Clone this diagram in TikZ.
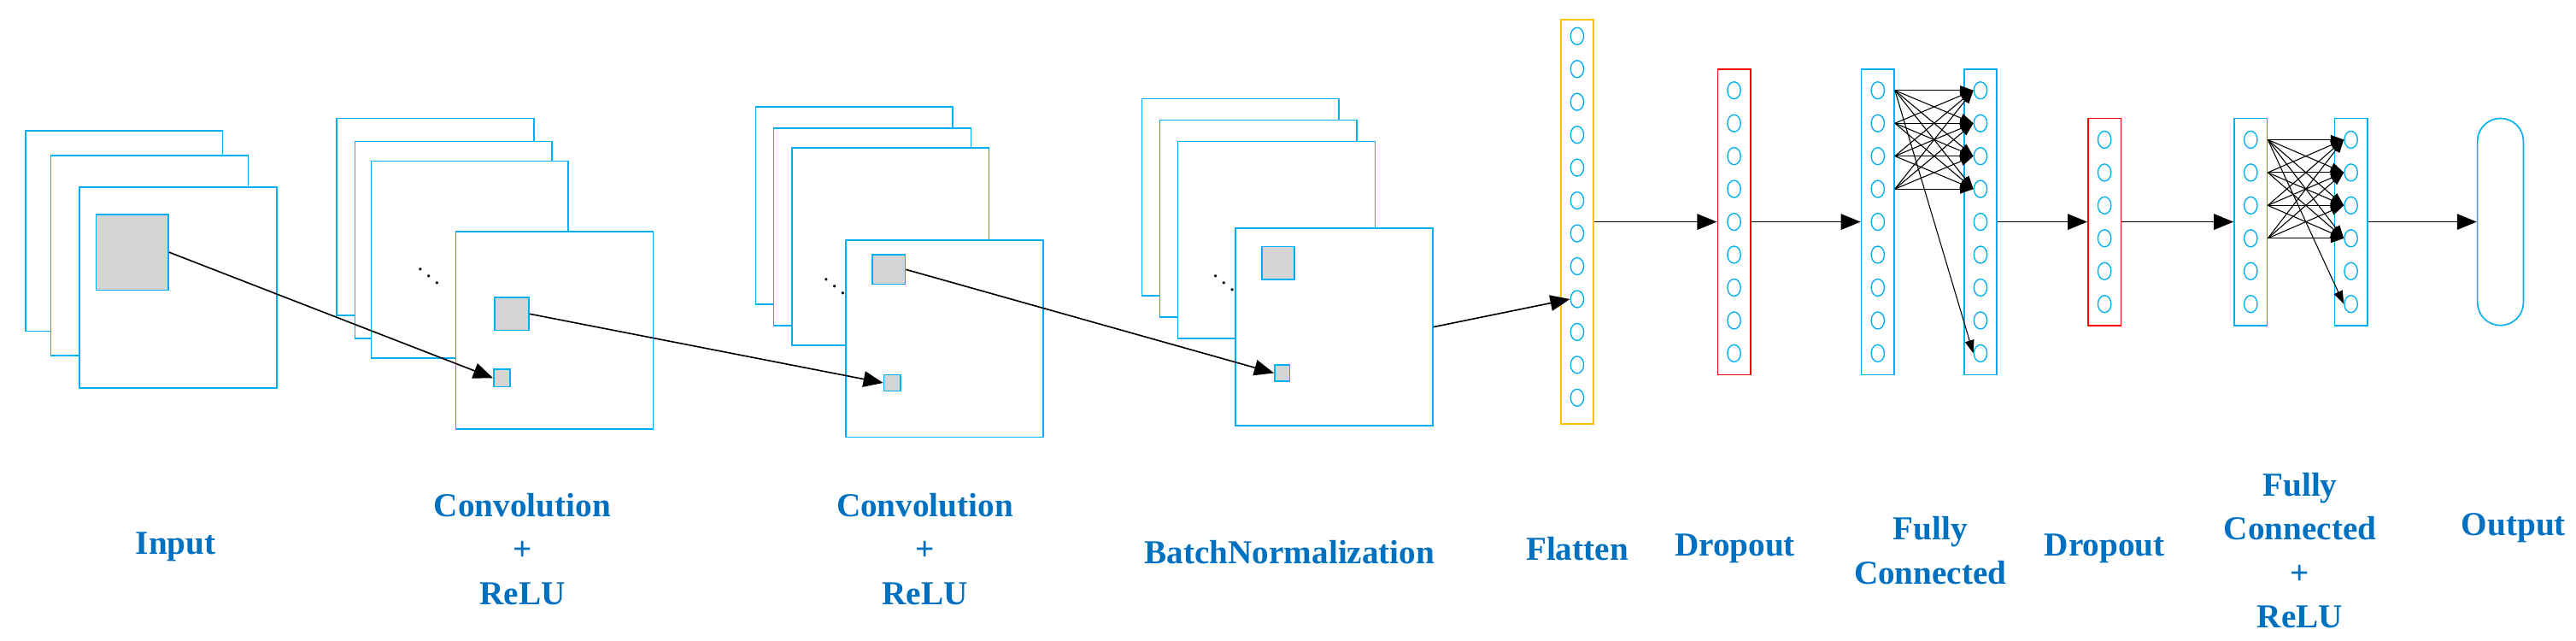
\documentclass[tikz,border=0pt]{standalone}
\usepackage{fontspec}
\setmainfont{Liberation Serif}
\usetikzlibrary{arrows.meta,shapes.geometric}
\definecolor{mapblue}{RGB}{0,176,240}
\definecolor{txtblue}{RGB}{0,112,192}
\definecolor{dropred}{RGB}{255,0,0}
\definecolor{flatyel}{RGB}{255,192,0}

\begin{document}
\begin{tikzpicture}[x=.25mm, y=-.25mm]
		\tikzstyle{sheet}=[draw=mapblue,fill=white,line width=.6pt,minimum width=30mm,minimum height=30mm,inner sep=0pt]
		\tikzstyle{patch}=[draw=mapblue,fill=black!17,line width=.6pt,inner sep=0pt]
		\tikzstyle{layer}=[draw=mapblue,fill=white,line width=.6pt,minimum width=5mm,inner sep=0pt]
		\tikzstyle{unit}=[draw=mapblue,ellipse,line width=.5pt,minimum width=2mm,minimum height=2.6mm,inner sep=0pt]
		\tikzstyle{link}=[-{Triangle[length=3mm,width=2.4mm]},line width=.6pt]
		\tikzstyle{thin link}=[-{Triangle[length=2mm,width=1.4mm]},line width=.4pt]
		\tikzstyle{caption}=[text=txtblue,font=\fontsize{14.5}{19}\selectfont\bfseries,align=center]
    \def\mapdots{$\ddots$}
		\useasboundingbox (0,0) rectangle (1568,390);

		% input
		\node[sheet,minimum width=30mm,minimum height=30.5mm] (in1) at (75.5,140.5) {};
		\node[sheet,minimum width=30mm,minimum height=30.5mm] (in2) at (91,155.5) {};
		\node[sheet,minimum width=30mm,minimum height=30.5mm] (in3) at (108.5,175) {};
		\node[patch,minimum width=11mm,minimum height=11.5mm] (inp) at (80.5,153.5) {};

		% convolution 1
		\node[sheet] (ca1) at (265,132) {};
		\node[sheet] (ca2) at (276,146) {};
		\node[sheet] (ca3) at (286,158) {};
		\node[sheet] (ca4) at (337.5,201) {};
		\node (cad) at (261,164) {\mapdots};
		\node[patch,minimum width=5.2mm,minimum height=5mm] (cap) at (311.5,191) {};
		\node[patch,minimum width=2.5mm,minimum height=2.7mm] (cat) at (305.5,230) {};

		% convolution 2
		\node[sheet] (cb1) at (520,125) {};
		\node[sheet] (cb2) at (531,138) {};
		\node[sheet] (cb3) at (542,150) {};
		\node[sheet] (cb4) at (575,206) {};
		\node (cbd) at (508,170) {\mapdots};
		\node[patch,minimum width=5mm,minimum height=4.5mm] (cbp) at (541,164) {};
		\node[patch,minimum width=2.5mm,minimum height=2.5mm] (cbt) at (543,233) {};

		% batch normalization
		\node[sheet] (bn1) at (755,120) {};
		\node[sheet] (bn2) at (766,133) {};
		\node[sheet] (bn3) at (777,146) {};
		\node[sheet] (bn4) at (812,199) {};
		\node (bnd) at (745,168) {\mapdots};
		\node[patch,minimum width=5mm,minimum height=5mm] (bnp) at (778,160) {};
		\node[patch,minimum width=2.3mm,minimum height=2.5mm] (bnt) at (780.5,227) {};

		\draw[link] (inp.east) -- (cat.west);
		\draw[link] (cap.east) -- (cbt.west);
		\draw[link] (cbp.east) -- (bnt.west);

		% dense part
		\node[layer,draw=flatyel,minimum height=61.5mm] (fl) at (960,135) {};
		\foreach \i in {1,...,12}
			\node[unit] (fl-\i) at (960,2+20*\i) {};
		\node[layer,draw=dropred,minimum height=46.5mm] (da) at (1055.5,135) {};
		\node[layer,minimum height=46.5mm] (fa) at (1143,135) {};
		\node[layer,minimum height=46.5mm] (fb) at (1205.5,135) {};
		\foreach \i in {1,...,9} {
			\node[unit] (da-\i) at (1055.5,35+20*\i) {};
			\node[unit] (fa-\i) at (1143,35+20*\i) {};
			\node[unit] (fb-\i) at (1205.5,35+20*\i) {};
		}
		\node[layer,draw=dropred,minimum height=31.5mm] (db) at (1281,135) {};
		\node[layer,minimum height=31.5mm] (ga) at (1370,135) {};
		\node[layer,minimum height=31.5mm] (gb) at (1431,135) {};
		\foreach \i in {1,...,6} {
			\node[unit] (db-\i) at (1281,65+20*\i) {};
			\node[unit] (ga-\i) at (1370,65+20*\i) {};
			\node[unit] (gb-\i) at (1431,65+20*\i) {};
		}
		\node[draw=mapblue,line width=.6pt,rounded corners=3.5mm,minimum width=7mm,minimum height=31.5mm] (out) at (1522,135) {};

		\draw[link] (bn4.east) -- (fl-9.west);
		\draw[link] (fl) -- (da);
		\draw[link] (da) -- (fa);
		\draw[link] (fb) -- (db);
		\draw[link] (db) -- (ga);
		\draw[link] (gb) -- (out);

		\foreach \i in {1,...,4}
			\foreach \j in {1,...,4} {
				\draw[thin link] (fa-\i -| fa.east) -- (fb-\j.west);
				\draw[thin link] (ga-\i -| ga.east) -- (gb-\j.west);
			}
		\draw[thin link] (fa-1 -| fa.east) -- (fb-9.west);
		\draw[thin link] (ga-1 -| ga.east) -- (gb-6.west);

		% captions
		\node[caption] (t-in) at (107,333) {Input};
		\node[caption] (t-ca) at (318,334) {Convolution\\+\\ReLU};
		\node[caption] (t-cb) at (563,334) {Convolution\\+\\ReLU};
		\node[caption] (t-bn) at (785,336) {BatchNormalization};
		\node[caption] (t-fl) at (960,334) {Flatten};
		\node[caption] (t-da) at (1056,334) {Dropout};
		\node[caption] (t-fa) at (1175,335) {Fully\\Connected};
		\node[caption] (t-db) at (1281,334) {Dropout};
		\node[caption] (t-ga) at (1400,335) {Fully\\Connected\\+\\ReLU};
		\node[caption] (t-out) at (1530,321) {Output};
	\end{tikzpicture}
\end{document}
